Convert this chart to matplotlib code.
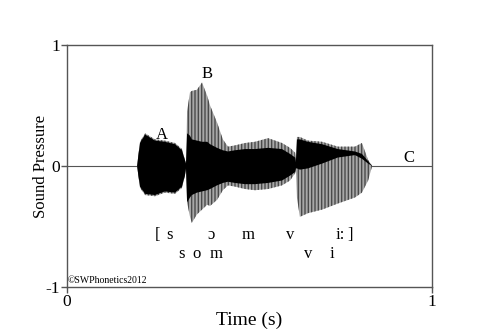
import matplotlib
matplotlib.use("Agg")
import matplotlib.pyplot as plt
import numpy as np

# Time points (s) and envelope values
t = [0.192, 0.200, 0.214, 0.241, 0.268, 0.296, 0.315, 0.323, 0.326,
     0.329, 0.337, 0.342, 0.356, 0.370, 0.384, 0.392, 0.411, 0.427, 0.441,
     0.460, 0.488, 0.515, 0.551, 0.589, 0.611, 0.625, 0.627,
     0.630, 0.638, 0.660, 0.699, 0.742, 0.789, 0.808, 0.825, 0.836]
gray_up = [0.0, 0.20, 0.27, 0.22, 0.21, 0.19, 0.14, 0.05, 0.02,
           0.45, 0.61, 0.62, 0.63, 0.69, 0.58, 0.50, 0.36, 0.22, 0.16,
           0.17, 0.19, 0.20, 0.23, 0.19, 0.15, 0.11, 0.05,
           0.24, 0.24, 0.21, 0.20, 0.16, 0.16, 0.19, 0.05, 0.0]
gray_lo = [0.0, -0.18, -0.24, -0.25, -0.22, -0.23, -0.18, -0.08, -0.02,
           -0.30, -0.42, -0.47, -0.40, -0.36, -0.32, -0.33, -0.28, -0.20, -0.16,
           -0.17, -0.19, -0.20, -0.19, -0.16, -0.12, -0.06, -0.03,
           -0.26, -0.42, -0.39, -0.36, -0.31, -0.26, -0.22, -0.12, 0.0]
black_up = [0.0, 0.19, 0.26, 0.21, 0.20, 0.18, 0.13, 0.05, 0.02,
            0.27, 0.25, 0.22, 0.21, 0.20, 0.20, 0.18, 0.15, 0.13, 0.12,
            0.13, 0.14, 0.14, 0.15, 0.14, 0.10, 0.07, 0.03,
            0.22, 0.22, 0.20, 0.18, 0.14, 0.12, 0.10, 0.04, 0.0]
black_lo = [0.0, -0.17, -0.23, -0.24, -0.21, -0.22, -0.17, -0.08, -0.02,
            -0.30, -0.26, -0.24, -0.22, -0.21, -0.20, -0.19, -0.16, -0.14, -0.13,
            -0.14, -0.15, -0.15, -0.14, -0.12, -0.08, -0.05, -0.02,
            -0.02, -0.03, -0.02, 0.02, 0.07, 0.09, 0.06, 0.02, 0.0]

x_ticks = [0, 1]
y_ticks = [-1, 0, 1]

point_labels = ["A", "B", "C"]
point_t = [0.26, 0.384, 0.937]
point_v = [0.26, 0.76, 0.07]

ipa_row1 = ["[", "s", "ɔ", "m", "v", "i:", "]"]
ipa_row1_t = [0.249, 0.282, 0.395, 0.496, 0.611, 0.748, 0.775]
ipa_row2 = ["s", "o", "m", "v", "i"]
ipa_row2_t = [0.315, 0.356, 0.408, 0.660, 0.726]

plt.rcParams['font.family'] = ['Liberation Serif', 'DejaVu Serif']

fig = plt.figure(figsize=(5.0, 3.33), dpi=100)
ax = fig.add_axes([0.134, 0.138, 0.730, 0.727])
ax.set_xlim(0, 1)
ax.set_ylim(-1, 1)

ax.axhline(0, color='#555555', lw=0.8, zorder=1)
ax.fill_between(t, gray_lo, gray_up, facecolor='#a8a8a8', edgecolor='#4a4a4a',
                hatch='|||||', linewidth=0, zorder=2)
ax.fill_between(t, black_lo, black_up, facecolor='black', linewidth=0, zorder=3)

for s, x, y in zip(point_labels, point_t, point_v):
    ax.text(x, y, s, ha='center', va='center', fontsize=12)
for s, x in zip(ipa_row1, ipa_row1_t):
    ax.text(x, -0.57, s, ha='center', va='center', fontsize=12)
for s, x in zip(ipa_row2, ipa_row2_t):
    ax.text(x, -0.73, s, ha='center', va='center', fontsize=12)

ax.text(0.003, -0.985, "©SWPhonetics2012", fontsize=7, ha='left', va='bottom')

for sp in ax.spines.values():
    sp.set_color('#555555')
    sp.set_linewidth(1.0)

ax.set_xticks(x_ticks)
ax.set_xticklabels([str(v) for v in x_ticks])
ax.set_yticks(y_ticks)
ax.set_yticklabels([str(v) for v in y_ticks])
ax.tick_params(direction='out', length=4, width=1, color='#555555', labelsize=12.5, pad=1)
ax.set_xlabel("Time (s)", fontsize=14)
ax.set_ylabel("Sound Pressure", fontsize=12)
ax.xaxis.set_label_coords(0.5, -0.10)
ax.yaxis.set_label_coords(-0.05, 0.5)

fig.savefig("out.png", dpi=100)
